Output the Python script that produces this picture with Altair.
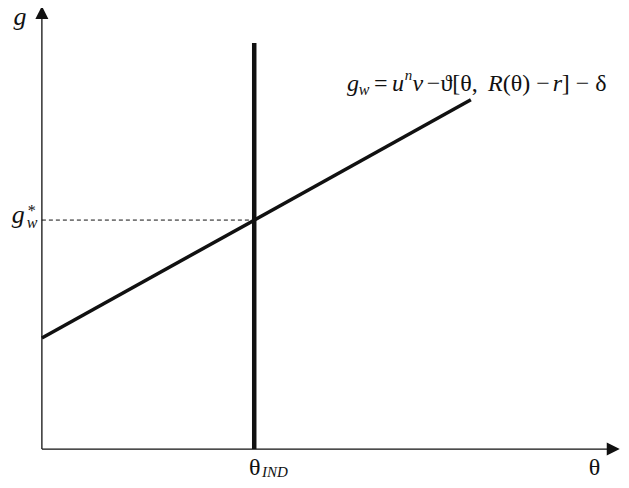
import altair as alt
import pandas as pd

# ---- data (abstract units: theta on x, g on y) ----
theta_line = [0.0, 10.0]          # g_w schedule endpoints
g_line = [4.85, 15.25]
theta_ind = 4.95                  # vertical theta_IND line
g_ind_top = 17.73
g_star = 10.0                     # g_w* level
x_axis_end = 13.2
y_axis_end = 18.78
x_arrow = 13.32
y_arrow = 19.06

# annotation pieces: text, x, y, font size, italic
ann_text = ["g", "g", "*", "w", "θ", "IND", "θ",
            "g", "w", "=", "u", "n", "v", "−ϑ[θ,", "R", "(θ) −", "r", "] − δ"]
ann_x = [-0.66, -0.70, -0.33, -0.35, 4.83, 5.13, 12.75,
         7.110, 7.389, 7.740, 8.160, 8.458, 8.640, 8.974, 10.400, 10.746, 11.911, 12.121]
ann_y = [18.51, 9.87, 10.17, 9.65, -1.135, -1.23, -1.135,
         15.63, 15.46, 15.63, 15.63, 16.11, 15.63, 15.63, 15.63, 15.63, 15.63, 15.63]
ann_size = [26, 26, 16, 16, 24, 15, 24,
            24, 16, 24, 24, 15, 24, 24, 24, 24, 24, 24]
ann_italic = [True, True, False, True, False, True, False,
              True, True, False, True, True, True, False, True, False, True, False]

FONT = "Liberation Serif"
INK = "#111111"

xs = alt.Scale(domain=[-0.79, 13.5], nice=False, zero=False)
ys = alt.Scale(domain=[-1.35, 19.26], nice=False, zero=False)

line_df = pd.DataFrame({"x": theta_line, "y": g_line})
axes_df = pd.DataFrame({"x": [0.0, 0.0], "x2": [x_axis_end, 0.0],
                        "y": [0.0, 0.0], "y2": [0.0, y_axis_end]})
vert_df = pd.DataFrame({"x": [theta_ind], "y": [0.0], "y2": [g_ind_top]})
dash_df = pd.DataFrame({"x": [0.0], "x2": [theta_ind], "y": [g_star]})
arrow_up_df = pd.DataFrame({"x": [0.0], "y": [y_arrow]})
arrow_right_df = pd.DataFrame({"x": [x_arrow], "y": [0.0]})
ann_df = pd.DataFrame({"text": ann_text, "x": ann_x, "y": ann_y,
                       "size": ann_size, "italic": ann_italic})

axes = alt.Chart(axes_df).mark_rule(color=INK, strokeWidth=1.3).encode(
    x=alt.X("x:Q", scale=xs, axis=None), x2="x2:Q",
    y=alt.Y("y:Q", scale=ys, axis=None), y2="y2:Q")

arrow_up = alt.Chart(arrow_up_df).mark_point(
    shape="M0,-1L1,1L-1,1Z", filled=True, size=169, color=INK, opacity=1, strokeWidth=0
).encode(x=alt.X("x:Q", scale=xs, axis=None), y=alt.Y("y:Q", scale=ys, axis=None))

arrow_right = alt.Chart(arrow_right_df).mark_point(
    shape="M1,0L-1,-1L-1,1Z", filled=True, size=169, color=INK, opacity=1, strokeWidth=0
).encode(x=alt.X("x:Q", scale=xs, axis=None), y=alt.Y("y:Q", scale=ys, axis=None))

dash = alt.Chart(dash_df).mark_rule(color=INK, strokeWidth=1, strokeDash=[4, 3]).encode(
    x=alt.X("x:Q", scale=xs, axis=None), x2="x2:Q",
    y=alt.Y("y:Q", scale=ys, axis=None))

vert = alt.Chart(vert_df).mark_rule(color=INK, strokeWidth=4.5).encode(
    x=alt.X("x:Q", scale=xs, axis=None),
    y=alt.Y("y:Q", scale=ys, axis=None), y2="y2:Q")

gline = alt.Chart(line_df).mark_line(color=INK, strokeWidth=3.5, strokeCap="butt").encode(
    x=alt.X("x:Q", scale=xs, axis=None), y=alt.Y("y:Q", scale=ys, axis=None))

txt_it = alt.Chart(ann_df).transform_filter("datum.italic").mark_text(
    font=FONT, fontStyle="italic", align="left", baseline="alphabetic", color=INK
).encode(x=alt.X("x:Q", scale=xs, axis=None), y=alt.Y("y:Q", scale=ys, axis=None),
         text="text:N", size=alt.Size("size:Q", scale=None, legend=None))

txt_n = alt.Chart(ann_df).transform_filter("!datum.italic").mark_text(
    font=FONT, align="left", baseline="alphabetic", color=INK
).encode(x=alt.X("x:Q", scale=xs, axis=None), y=alt.Y("y:Q", scale=ys, axis=None),
         text="text:N", size=alt.Size("size:Q", scale=None, legend=None))

chart = alt.layer(axes, arrow_up, arrow_right, dash, gline, vert, txt_it, txt_n).properties(
    width=613, height=472, padding=0, autosize="none", background="white"
).configure_view(stroke=None)

chart.save("out.html", embed_options={"renderer": "svg", "actions": False})
